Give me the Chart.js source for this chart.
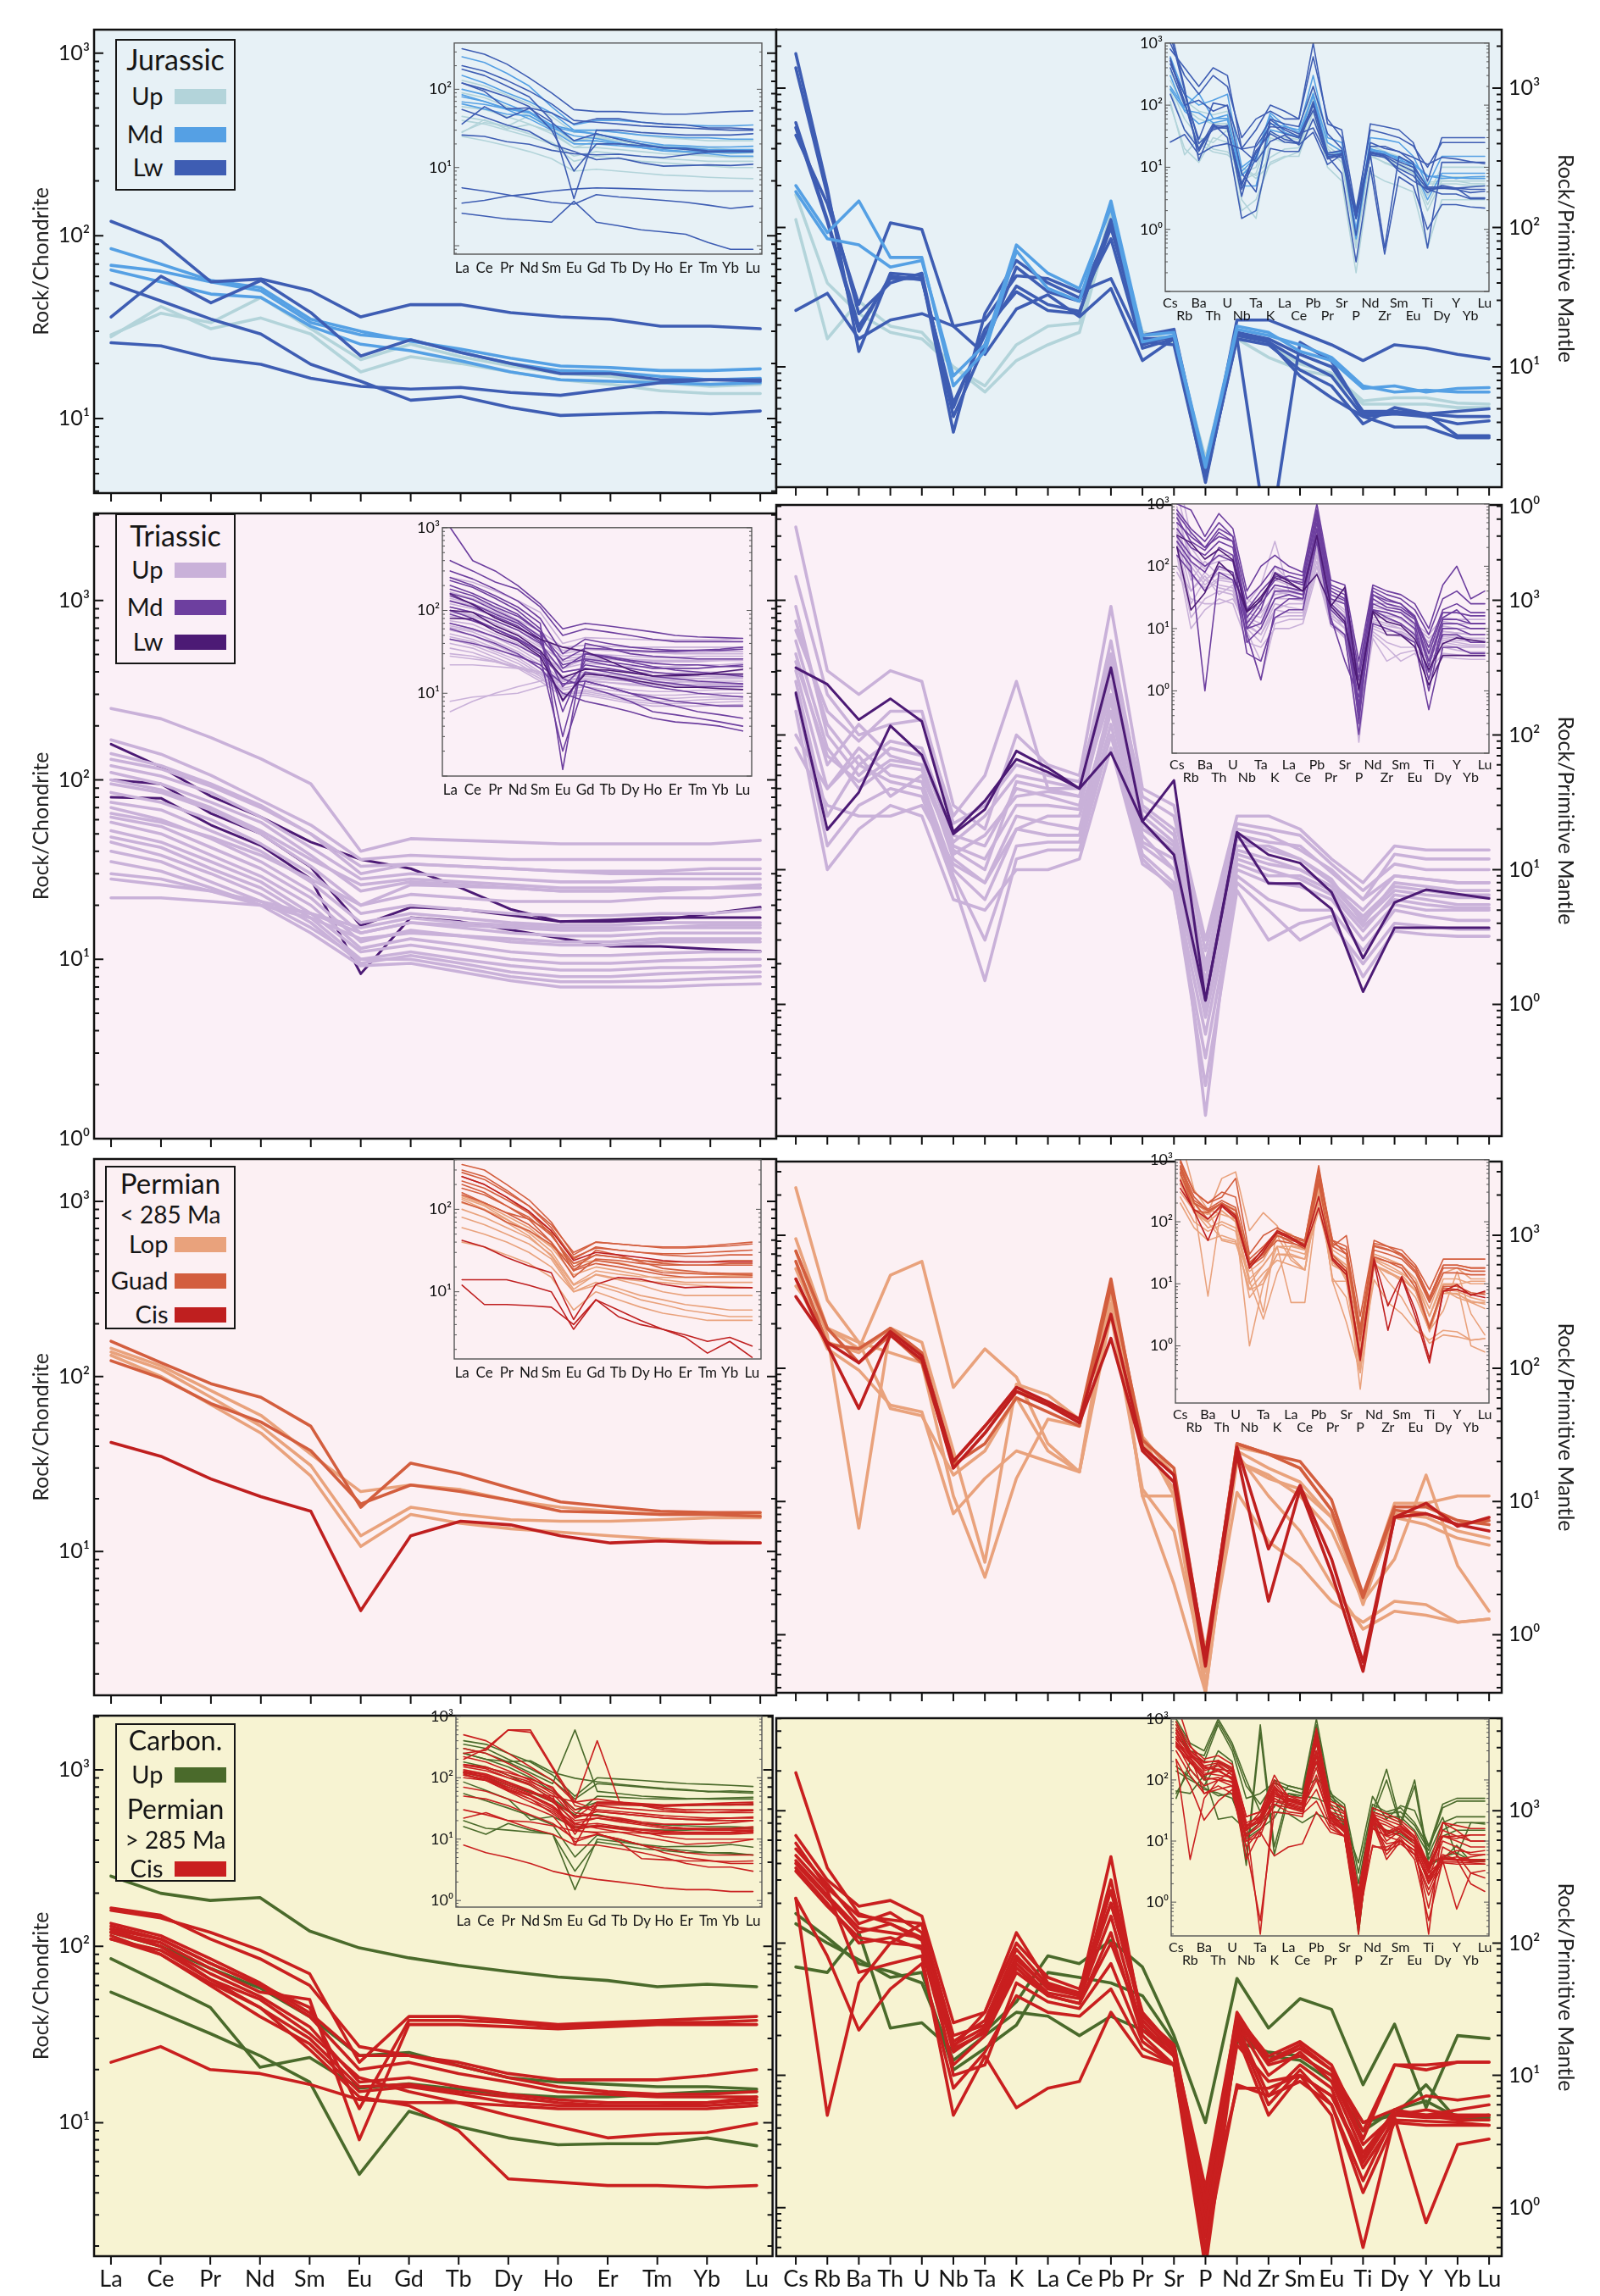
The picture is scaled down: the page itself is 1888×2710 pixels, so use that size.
<!DOCTYPE html>
<html>
<head>
<meta charset="utf-8">
<title>Chondrite and primitive-mantle normalised patterns</title>
<script src="https://cdn.jsdelivr.net/npm/chart.js@4.4.1/dist/chart.umd.min.js"></script>
<style>
html,body{margin:0;padding:0;background:#ffffff;}
#fig{position:relative;width:1888px;height:2710px;overflow:hidden;background:#fff;font-family:Lato,"Open Sans",sans-serif;color:#111;}
#fig canvas{position:absolute;}
.lg{position:absolute;box-sizing:border-box;border:2.5px solid #151515;z-index:40;}
.lg .t{position:absolute;white-space:nowrap;line-height:1;color:#151515;}
.lg .sw{position:absolute;height:18px;width:61px;}
</style>
</head>
<body>
<div id="fig"></div>
<script>
// ---------------- categories ----------------
const REE = ['La','Ce','Pr','Nd','Sm','Eu','Gd','Tb','Dy','Ho','Er','Tm','Yb','Lu'];
const PM = ['Cs','Rb','Ba','Th','U','Nb','Ta','K','La','Ce','Pb','Pr','Sr','P','Nd','Zr','Sm','Eu','Ti','Dy','Y','Yb','Lu'];
const SUPS = {'-1':'\u207B\u00B9','0':'\u2070','1':'\u00B9','2':'\u00B2','3':'\u00B3'};

// ---------------- Jurassic ----------------
const jurREE_Up = [
 [28,41,31,35.5,29,18,21.8,20,18,16.3,15.4,14.2,13.7,13.7],
 [28.7,37.7,33.5,46,31,21,25.5,21.8,19.4,17.6,17,15.7,15,15.4]
];
const jurREE_Md = [
 [85,70,57,52,35,30,26.5,24,21.4,19.4,19,18.3,18.3,18.7],
 [69,64,56,50,33.5,28.7,27,23,20,18.3,18,17,16.3,16.6],
 [65,56,48,46,32,25.5,23.5,20.7,18,16.3,16,15.7,15.4,15.7]
];
const jurREE_Lw = [
 [120,94,56,58,50,36,42,42,38,36,35,32,32,31],
 [36,60,43,57,38,22,27,23,20,17.6,17.6,16.3,16.3,16],
 [55,44,35,29,19.8,16,12.6,13.2,11.5,10.4,10.6,10.8,10.6,11],
 [26,25,21.4,19.8,16.6,15,14.5,14.8,13.9,13.4,14.5,15.7,16.3,16.3]
];
const jurREE_insetUp = [
 [60,55,45,36,27,18,18,17,16,15,14.5,14,13.5,13.5],
 [40,36,30,25,20,12,14,13,12,11.5,11,10.5,10,10],
 [25,22,19,16,13,9,9.5,9,8.5,8,7.8,7.5,7.3,7.2],
 [90,78,60,46,33,22,24,22,20,19,18,18,17,17],
 [130,110,85,65,45,28,30,28,26,24,23,22,22,22],
 [45,40,33,27,21,14,16,15,14,13,12.5,12,12,12]
];
const jurREE_insetMd = [
 [150,120,90,70,50,30,30,28,26,25,24,24,23,23],
 [100,85,65,50,35,22,22,20,19,18,17.5,17,17,17],
 [260,220,160,110,60,35,40,40,38,36,35,34,34,35],
 [80,70,55,42,30,20,20,19,18,17,16,15,14,14]
];
const jurREE_insetLw = [
 [330,280,210,140,90,55,52,52,50,48,48,50,52,53],
 [2.6,2.4,2.2,2.1,2.0,3.7,2.0,1.8,1.6,1.5,1.4,1.1,0.9,0.9],
 [5.5,5,4.5,4,3.6,3.4,4.5,4.2,4,3.8,3.6,3.3,3,3.2],
 [3.5,3.8,4.3,4.6,5,5.3,5.5,5.4,5.3,5.2,5.1,5,5,5],
 [180,150,110,80,40,4,30,30,28,27,26,26,26,27],
 [200,170,130,95,65,40,38,36,34,33,32,31,30,30],
 [120,100,80,60,30,9,20,20,19,18,17,16,16,16]
];
const jurPM_Up = [
 [172,40,24.1,17.7,15.9,10,6.6,11.1,14.4,17.7,114,15.9,15.1,2.2,15.9,11.7,9.5,8.6,5.4,5.4,5.4,5.1,5.1],
 [114,15.9,29.6,19.6,17.7,10,7.3,14.4,19.6,20.6,126,17.7,15.9,2.1,16.8,14.4,10.5,9.0,5.7,6.0,6.0,5.5,5.4]
];
const jurPM_Md = [
 [200,92,155,61,61,7.3,12.9,68,36.5,29.6,155,16.8,17.7,2.0,19.6,17.7,12.9,11.1,7.0,7.3,6.6,7.0,7.1],
 [181,83,75,52,58,8.6,14.4,75,47,36.5,140,15.1,16.8,1.9,18.6,16.8,14.4,11.7,7.3,6.6,6.8,6.6,6.6]
];
const jurPM_Lw = [
 [1770,191,12.9,47,45,3.4,24.1,58,40,31.2,103,15.1,14.4,1.55,16.8,15.1,11.1,8.6,4.4,4.6,4.4,3.9,4.1],
 [1400,172,24.1,40,47,4.4,14.4,52,34.6,29.6,83,13.6,15.9,1.6,15.9,14.4,9.5,7.3,3.9,5.1,4.6,3.2,3.2],
 [566,114,19.6,43,43,5.1,18.6,34.6,25.4,24.1,114,16.8,18.6,1.8,17.7,15.9,12.3,10,4.8,4.8,4.6,4.8,5.0],
 [460,148,28.1,108,97,19.6,21.7,45,43,34.6,43,14.4,16.8,1.6,21.7,21.7,17.7,14.4,11.1,14.4,13.6,12.3,11.4],
 [25.4,33.7,15.9,21.7,24.1,19.6,12.3,26,32.9,22.9,36.5,11.1,15.9,1.48,17.7,15.1,8.6,6.0,4.4,3.7,3.7,3.1,3.1],
 [520,110,18,45,42,5.5,17,38,28,25,100,16,16,1.7,16,0.5,15,11,4.6,4.6,4.6,4.4,4.4]
];
const jurPM_insetUp = [
 [200,60,30,25,40,3,1.5,30,25,25,100,20,12,0.5,15,12,10,8,2,6,6,6,6],
 [100,20,12,30,25,2,3,12,15,15,80,10,6,0.2,8,6,5,4,0.5,3,3,3,3],
 [250,90,60,50,50,6,8,35,30,28,120,22,15,0.6,18,14,12,9,2.5,7,7,7,7],
 [350,120,80,70,80,8,10,40,35,32,200,25,18,0.9,22,18,15,11,3.5,10,10,10,10]
];
const jurPM_insetMd = [
 [600,150,100,120,150,10,15,50,45,40,300,30,25,1.0,30,28,25,15,5,15,15,15,15],
 [300,80,50,60,70,5,5,40,35,30,150,25,18,0.7,20,16,14,10,3,8,8,8,8]
];
const jurPM_insetLw = [
 [1000,300,150,300,200,30,60,80,60,60,1000,50,40,2,40,35,30,22,10,25,25,25,25],
 [800,400,200,400,300,20,40,100,80,60,600,60,30,1.5,50,45,40,25,6,30,30,30,30],
 [150,40,20,50,30,1.5,2,20,18,18,60,15,8,0.3,10,0.4,7,5,1.0,2.5,2.5,2.3,2.2],
 [400,100,120,80,100,8,4,60,50,45,200,35,20,0.8,25,20,18,12,0.5,12,12,12,12]
];

// ---------------- Triassic ----------------
const triREE_Up = [
 [250,219,172,131,95,40,47,46,45,44,44,44,44,46],
 [167,139,106,77,56,36,38,37,36,36,36,36,36,36],
 [130,115,92,70,50,33,34,33,32,31,31,31,32,32],
 [120,105,85,62,42,28,30,29,28,27,27,28,28,28],
 [110,95,75,58,38,24,27,26,25,24,24,25,25,26],
 [95,85,68,50,33,20,23,22,21,21,21,22,22,23],
 [85,75,60,44,30,18,20,19,18,17.5,17.5,18,18,19],
 [75,68,52,40,27,16,18,17,16,15.5,15.5,16,16,16],
 [70,60,47,35,24,14,16,15,14,13.5,13.5,14,14,14],
 [62,55,42,32,22,12.5,14.5,13.5,12.5,12,12,12.5,12.5,12.5],
 [58,50,38,29,20,11.5,13,12,11,10.5,10.5,10.8,11,11],
 [52,45,35,27,18,11,12,11,10,9.5,9.5,9.8,10,10],
 [48,42,32,25,17,10,11,10,9.2,8.7,8.7,9,9,9.2],
 [45,38,30,23,16,9.5,10.5,9.5,8.5,8,8,8.3,8.5,8.5],
 [40,35,27,21,15,10,10,9,8,7.5,7.5,7.6,7.8,8],
 [35,31,25,20,14,9.2,9.5,8.5,7.6,7,7,7,7.2,7.3],
 [30,28,24,20,17,13,14,13.5,13,12.5,12.5,13,13,13],
 [28,26,24,21,18,14,16,15.5,15,14.5,14.5,15,15,15],
 [22,22,21,20,18,15,17,16,15.5,15,15,15,15.5,15.5],
 [65,58,48,38,28,20,26,25.5,25,24,24,24,25,25],
 [100,88,70,52,36,26,28,27,26,25,25,25,25,25],
 [140,120,95,72,50,30,34,33,32,31,30,30,30,30]
];
const triREE_Lw = [
 [158,118,81,62,45,36,32,25,19,16.2,16.2,16.6,18,19.5],
 [100,95,65,50,32.6,15.4,19.5,19,17.6,16.2,16.6,17.1,17.1,17.1],
 [80,79,56,43,28,8.3,17.1,16.2,14.6,13.1,11.8,11.8,11.4,11.1]
];
const triREE_insetUp = [
 [8,9,9.5,10,12,14,15,14.5,14,13,12.5,12,12,12],
 [6,8,10,12,14,16,18,17,16,15,14,13.5,13,13]
];
const triREE_insetMd = [
 [1000,400,300,200,120,60,70,65,60,55,50,48,47,46],
 [400,300,220,180,110,50,60,55,50,45,42,42,42,42],
 [250,200,150,110,70,1.2,40,35,30,28,27,26,26,26],
 [200,160,120,90,55,3,30,28,25,23,22,22,21,21],
 [150,120,90,70,45,6,25,22,20,18,17,17,17,17],
 [100,80,60,45,30,15,12,10,8,6,5.5,5,4.5,4],
 [60,50,40,30,20,10,8,7,6,5,4.5,4.3,4,3.5],
 [180,150,110,85,55,25,35,34,33,32,32,33,34,36],
 [300,240,180,130,80,30,45,40,36,34,33,33,33,34],
 [230,190,140,100,60,20,30,27,24,21,19,18,17,16],
 [130,110,85,65,42,12,22,20,18,16,15,14,13.5,13],
 [90,75,60,46,32,8,18,16,14,12,11,10,9.5,9],
 [70,60,48,38,27,2,14,12,10,9,8,7.5,7,7],
 [160,135,100,75,48,22,26,24,22,20,20,20,21,22],
 [110,95,75,58,40,18,20,18,16,14,13,12,12,12],
 [45,40,34,28,22,13,14,12,10,8,7,6,5.5,5]
];
const triPM_Up = [
 [3500,300,200,300,250,30,20,100,60,50,900,40,30,3,25,25,20,12,8,15,14,14,14],
 [1500,200,100,120,130,25,50,250,40,40,500,30,20,2,20,18,14,10,6,13,12,12,12],
 [700,120,60,90,80,18,15,40,35,30,300,22,15,1.5,17,14,12,8,5,9,8.5,8,8],
 [500,80,40,60,55,15,12,30,30,28,250,20,14,1.2,14,12,10,7.5,4.5,7.5,7,6.5,6.5],
 [400,60,120,70,60,12,8,25,22,20,180,16,12,1.0,12,10,8.5,6.5,3.5,6.5,6,5.5,5.5],
 [300,40,80,50,45,10,6,20,18,18,150,15,10,0.8,10,8,7.5,6,3,5.5,5,5,5],
 [250,25,60,45,40,9,3,15,16,16,120,13,8,0.6,9,6,5,5,2.5,5,4.5,4.2,4.2],
 [200,15,30,40,35,8,1.5,12,14,14,100,12,7,0.4,8,5,3,4,2,4,3.8,3.6,3.6],
 [150,10,20,30,25,6,5,10,10,12,80,11,7.5,0.25,7,3,4,4.5,1.6,3.5,3.3,3.2,3.2],
 [100,40,70,35,50,14,10,45,40,35,200,22,13,1.3,15,15,12,8.5,4,8,7.5,7,7],
 [600,150,90,150,150,22,30,60,50,45,400,35,25,2.5,22,20,18,11,7,11,10,10,10],
 [900,100,50,80,70,16,25,50,45,40,350,28,18,1.8,18,16,15,9.5,6,9,8.5,8,8],
 [80,30,25,25,30,11,8,20,25,25,150,18,10,0.9,11,9,9,7,3.8,6,5.5,5.2,5.2],
 [350,70,45,65,60,13,18,35,38,35,250,25,16,0.15,13,11,10,7.5,4.2,7,6.5,6.2,6.2]
];
const triPM_Lw = [
 [316,238,130,186,126,19,32.5,66,53,40,316,22.8,46,1.07,19,12.9,11.2,6.8,2.2,5.7,7.1,6.6,6.1],
 [206,19.8,37.5,117,71,18.4,28,76,57,40,74,22.8,12.9,1.07,18.4,7.9,7.9,5.1,1.24,3.7,3.7,3.7,3.7]
];
const triPM_insetMd = [
 [1000,800,300,700,400,40,100,150,100,80,1000,60,50,3,50,40,35,25,10,50,100,30,40],
 [500,300,200,300,250,15,30,60,70,60,600,40,30,1.5,40,30,25,15,5,20,25,18,18],
 [200,100,1,80,60,8,1.5,20,30,30,300,15,3,0.8,20,15,12,8,2,8,8,6,6],
 [800,400,250,500,300,30,50,100,80,70,800,50,40,2,45,35,30,20,8,30,40,25,25],
 [300,150,100,150,120,10,12,40,40,35,400,25,15,0.5,25,20,18,12,1.5,12,12,10,10],
 [700,350,200,400,300,10,20,80,60,50,700,45,35,0.3,35,25,22,15,3,15,20,12,12],
 [400,200,150,250,200,12,25,50,45,40,500,30,25,0.6,30,22,20,14,2.5,14,14,12,12],
 [250,120,80,200,150,6,10,30,35,30,400,20,12,0.4,20,18,15,10,1,10,10,8,8],
 [600,250,180,350,250,20,40,70,60,55,600,35,28,1.0,35,28,25,16,4,18,18,16,16],
 [150,80,40,100,80,4,3,15,20,20,250,12,8,0.2,12,10,8,6,0.5,5,5,4,4]
];

// ---------------- Permian < 285 Ma ----------------
const perREE_Lop = [
 [145,115,83,60,36,22,24,22.6,19.6,17.9,17,16.3,16.3,16.3],
 [138,110,76,52,31,12.3,17.9,16.3,15.2,14.9,14.9,15.2,15.6,15.6],
 [132,100,69,47.5,27,10.7,16.3,14.5,13.5,12.9,12.3,11.8,11.5,11.2]
];
const perREE_Guad = [
 [159,120,91,76,52,17.9,32,27.8,23,19.2,18,17,16.7,16.7],
 [123,98,70,55,37.7,18.7,24,22,19.6,17,16.7,16.3,16.3,15.9]
];
const perREE_Cis = [
 [42,35,26,20.6,17,4.6,12.3,14.9,14.2,12.3,11.2,11.5,11.2,11.2]
];
const perREE_insetLop = [
 [100,80,60,45,28,12,16,14,12,10,9,9,9,9],
 [60,50,40,30,20,10,12,10,8,7,6,5.5,5,5],
 [40,35,28,22,15,6,10,8,6.5,5.5,5,4.5,4.5,4.5],
 [120,100,75,55,35,16,20,18,16,14,13,13,13,13],
 [80,65,50,38,25,10,13,11,9,8,7,6.5,6,6]
];
const perREE_insetGuad = [
 [350,300,200,130,70,28,40,38,36,34,34,35,36,38],
 [300,250,170,110,60,25,35,32,30,28,27,27,28,28],
 [250,200,140,90,50,20,28,26,24,22,21,21,21,21],
 [200,160,110,75,40,18,22,20,18,16,15,15,15,15],
 [150,120,90,65,40,15,25,24,22,21,21,21,22,22],
 [280,230,160,110,65,30,40,38,36,35,35,36,38,40],
 [220,180,130,90,55,26,34,32,30,29,29,30,31,32],
 [180,150,110,80,48,22,28,26,24,23,23,23,24,24]
];
const perREE_insetCis = [
 [14,14,14,12,10,3.5,8,5,4,3.5,3,2.5,2.8,2.2],
 [12,7,7,6.8,6.5,4,8,6,4.5,3.5,2.8,1.8,2.5,1.6],
 [250,200,140,95,55,24,30,28,26,24,23,23,23,23]
];
const perPM_Lop = [
 [2270,325,157,50,44,15.8,24,60,24,16.7,307,30.7,11,0.37,24,17.8,14,7.6,1.78,7.6,6.7,5.3,4.7],
 [940,200,140,500,636,72,140,86,27.2,16.7,415,11,2.4,0.37,22.7,11,6,2.4,1.1,1.5,1.4,1.24,1.31],
 [760,178,6.3,200,157,24,3.5,76,63,41.5,370,30.7,15.8,0.53,25.6,22.7,17.8,8.6,1.68,8.1,7.6,6,5.3],
 [560,157,131,200,124,17.8,32.6,67,53,41.5,370,11,11,0.77,20,15.8,11,6,1.78,3.7,15.8,3.3,1.5],
 [469,140,97,53,47,8.1,14.9,24,20,16.7,255,12.4,6,0.53,11.7,5,3.3,1.78,1.24,1.78,1.68,1.24,1.31],
 [415,200,157,131,110,11,2.7,14.9,41.5,36.8,307,27.2,12.4,0.42,20,14.9,12.4,7.6,1.9,9.7,9.7,11,11]
];
const perPM_Guad = [
 [636,152,140,200,131,20,36.8,67,56,41.5,469,25.6,15.8,0.62,27.2,22.7,17.8,8.6,1.9,8.6,8.1,6.7,7.2],
 [760,200,110,178,110,18.9,27.2,60,47,36.8,415,29,17.8,0.65,27.2,22.7,20,10.3,2.0,9.1,9.1,7.2,6.7]
];
const perPM_Cis = [
 [469,148,50,178,116,17.8,32.6,67,53,39,168,24,14,0.58,22.7,1.78,12.4,2.9,0.53,7.6,8.1,6.7,6],
 [346,157,110,189,124,20,36.8,72,56,41.5,255,25.6,15.8,0.69,25.6,4.4,13.2,3.7,0.62,7.6,9.7,6.5,7.6]
];
const perPM_insetGuad = [
 [1000,300,200,250,500,30,60,80,60,50,800,40,60,3,50,40,35,20,8,25,25,25,25],
 [800,250,150,200,150,20,30,60,50,45,500,50,30,1.2,40,35,30,18,6,20,20,18,18],
 [600,200,150,200,150,20,30,50,45,40,600,40,30,1.5,35,30,25,15,5,15,15,14,14],
 [900,300,200,300,250,25,40,70,60,50,700,50,40,2,45,40,30,18,6,20,20,18,18],
 [700,220,160,220,170,22,35,65,55,48,650,45,35,1.8,42,36,28,16,5.5,18,18,16,16]
];
const perPM_insetLop = [
 [500,200,100,150,100,1.0,10,40,5,5,300,30,20,1.5,30,25,20,12,4,15,18,12,12],
 [200,80,50,60,50,8,10,30,30,25,150,20,15,0.2,20,15,12,8,2,8,6,5,4],
 [300,150,80,100,80,10,20,40,35,30,200,25,15,0.8,25,20,15,10,3,10,10,1,0.8],
 [400,150,100,150,100,12,20,40,40,35,400,35,25,1.0,30,25,20,12,3,12,12,10,10],
 [250,100,70,90,70,6,12,30,28,25,250,22,14,0.5,20,16,12,8,2.2,7,7,5,5]
];

// ---------------- Carboniferous / Permian > 285 Ma ----------------
const carREE_Up = [
 [250,200,182,189,122,98,86,78,72,67,64,59,61,59],
 [85,62,45,20.6,23.4,15.7,16.6,15.5,14.5,14,14,14.5,15,15],
 [55,42,32,24,17,5.1,11.6,9.5,8.2,7.5,7.6,7.6,8.2,7.4],
 [120,100,75,58,40,24,25,21,18,17,16.5,16,16,15.5]
];
const carREE_Cis = [
 [165,150,110,85,60,27,24,22,19,17.5,17.5,17.5,18.5,20],
 [160,145,120,95,70,22,40,40,38,36,37,38,39,40],
 [125,110,80,60,45,12,38,38,37,35,36,37,37,38],
 [120,105,75,55,50,8,36,36,35,34,35,36,36,36],
 [130,110,80,60,40,20,22,19,17,15,14.5,14,14,14],
 [120,100,70,52,35,17,18,16,14.5,13.5,13,13,13,13.5],
 [110,95,65,45,30,16,16.5,15,14,13,12.5,12.5,12.5,13],
 [115,90,60,40,28,15,16,14.5,13,12.5,12.5,12.5,13,14],
 [125,100,65,50,32,18,15,13,11,9.5,8.2,8.6,8.8,9.9],
 [110,90,62,45,26,14,12.5,9,4.8,4.6,4.4,4.4,4.3,4.4],
 [22,27,20,19,16.5,13.5,13,13,12.5,12,12,12,12,12.5],
 [135,115,85,62,42,24,24,21,18,16,15,14.5,14.5,15]
];
const carREE_insetUp = [
 [300,250,180,120,80,600,60,55,50,48,46,45,45,45],
 [400,350,250,180,110,50,100,95,90,85,80,78,75,72],
 [20,15,14,13,12,1.5,10,9,8,7,6.5,6,6,5.5],
 [250,200,150,100,60,30,40,38,36,35,35,36,36,37],
 [350,300,200,140,90,45,80,75,70,65,62,60,58,56],
 [180,150,110,75,45,25,50,48,46,45,45,46,47,48],
 [16,12,18,14,12,3,9,8,7,6.5,6,6,5.8,5.5]
];
const carREE_insetCis = [
 [200,300,600,600,150,40,30,28,26,24,23,22,22,22],
 [150,130,100,80,50,40,400,40,35,32,30,30,30,30],
 [8,6,5,4,3,2.5,2.2,2.0,1.8,1.6,1.5,1.5,1.4,1.4],
 [50,45,35,25,18,10,12,10,8,6,5,4.5,4,4],
 [30,25,20,15,12,8,8,7,6,5,4,3.5,3.5,3],
 [500,400,250,150,90,40,45,40,35,30,28,27,27,27],
 [300,250,170,110,65,30,35,32,30,28,27,27,28,29],
 [220,180,130,90,55,22,28,26,24,22,21,21,22,23],
 [160,140,100,75,45,18,22,20,18,16,15,15,15,16],
 [100,90,70,52,34,14,17,15,13,11,10,10,10,10],
 [70,60,45,34,24,9,12,10,8,7,6,5.5,5.5,5.5],
 [250,280,600,550,140,35,28,26,24,22,21,20,20,20]
];
const carPM_Up = [
 [66,60,120,22.8,25,15.3,21.4,36,80,70,105,66,20,4.4,54,22.8,38,31.6,8.5,24.4,5.7,20,19],
 [167,110,70,61,50,13,20,30,28,20,28,22,16,0.75,21,14,13,9,3.8,5.5,6.4,4.8,5],
 [140,100,75,55,60,11,16,24,60,55,50,40,18,0.6,18,15,14,10,4.4,5,8.5,4.6,4.8]
];
const carPM_Cis = [
 [1940,370,167,140,105,16.4,30,120,50,42,450,24,14,1.0,30,12.6,16,11,4.4,5.5,5,5.5,6],
 [650,300,190,210,160,25,30,100,55,45,200,30,16,1.4,28,14,18,12,3.8,12,11,12.6,12.6],
 [570,260,160,150,140,20,24,80,45,40,300,28,17,1.2,26,12,14,10,3.0,5,5.5,5,5],
 [515,280,140,170,120,18,26,90,48,40,250,26,15,0.9,25,10,15,9,2.6,5.2,5,4.6,4.6],
 [420,230,130,120,110,15,22,70,42,38,160,22,14,0.6,24,7,12,8,2.0,4.6,4.5,4.4,4.2],
 [370,200,100,110,90,12,20,60,40,35,120,20,12,0.45,22,6,11,6,1.3,4.4,4.2,4.2,4.2],
 [218,5,50,100,140,10,12,50,36,32,70,18,12,0.35,20,5,10,5,0.5,4.8,0.77,3,3.3],
 [460,250,60,70,80,5,14,5.7,8,9,30,14,12,0.5,8.5,7,9,6,1.6,5,4.8,4.8,5],
 [218,80,22,45,70,8,15,40,30,28,45,16,12,0.8,8,8,10,7,2.2,5.2,5,5,5],
 [400,220,120,140,110,17,23,75,46,40,200,28,16,1.1,26,13,17,11,3.3,12,12,12.6,12.6],
 [350,190,110,100,95,16,21,65,40,35,100,24,14,0.7,17,9,10,7,2.4,5.5,7,6.5,7.0]
];
const carPM_insetUp = [
 [1000,400,300,1000,400,100,30,100,80,70,1000,60,40,3,40,30,35,20,8,40,50,50,50],
 [50,200,100,300,200,5,800,8,60,50,300,30,20,0.3,30,150,20,100,5,15,20,20,20],
 [700,250,200,800,300,50,60,90,70,60,400,50,30,0.4,30,25,25,15,6,20,25,25,25],
 [900,300,250,900,350,80,40,90,70,60,800,55,35,2,35,28,30,18,7,35,45,45,45],
 [60,150,80,200,150,4,600,6,50,40,200,25,18,0.35,25,100,18,80,4,12,15,15,15]
];
const carPM_insetCis = [
 [800,300,200,200,150,20,0.3,60,50,45,600,40,30,0.3,30,25,20,12,0.3,20,15,10,10],
 [400,150,80,100,80,10,15,40,35,30,300,25,20,0.5,20,15,12,8,2,6,5,2,1.5],
 [600,250,150,180,120,15,25,50,40,35,500,30,25,1.0,25,20,15,10,3,12,10,8,8],
 [700,280,170,190,140,18,20,55,45,40,550,35,28,1.2,28,22,18,11,3.5,15,12,10,10],
 [500,200,120,150,100,12,18,45,38,33,400,28,22,0.8,22,18,14,9,2.5,10,8,6,6],
 [300,120,60,80,60,8,0.5,30,28,25,250,20,15,0.4,16,12,10,7,0.8,8,6,3,2.5],
 [900,350,220,250,180,25,30,70,55,50,700,45,35,1.5,35,28,22,14,4,20,18,16,16]
];

// ---------------- styles ----------------
const FONT = 'Lato, "Open Sans", sans-serif';
const BG = ['#e7f1f6', '#fbf0f7', '#fcf0f3', '#f7f3d2'];
const JUR = {up:'#b3d4da', md:'#55a0e4', lw:'#3e5db3'};
const TRI = {up:'#c9b1d9', md:'#6d3f9f', lw:'#4c1a75'};
const PER = {lop:'#e9a27c', guad:'#d35e3e', cis:'#bf1f1f'};
const CAR = {up:'#4a6a2b', cis:'#c91f1f'};
const fig = document.getElementById('fig');

function decadeLabel(v){ const e = Math.round(Math.log10(v)); return '10' + (SUPS[e] || ''); }

const frameTicks = {
  id: 'frameTicks',
  beforeDraw(chart, args, o){
    const a = chart.chartArea, ctx = chart.ctx;
    if (o.bg){ ctx.save(); ctx.fillStyle = o.bg; ctx.fillRect(a.left, a.top, a.right - a.left, a.bottom - a.top); ctx.restore(); }
  },
  afterDraw(chart, args, o){
    const a = chart.chartArea, ctx = chart.ctx, x = chart.scales.x, y = chart.scales.y;
    ctx.save();
    ctx.strokeStyle = o.tickC; ctx.lineWidth = o.tickW;
    ctx.beginPath();
    const lo = Math.floor(Math.log10(y.min)), hi = Math.ceil(Math.log10(y.max));
    for (let d = lo; d <= hi; d++){
      for (let k = 1; k <= 9; k++){
        const v = k * Math.pow(10, d);
        if (v < y.min * 0.999 || v > y.max * 1.001) continue;
        const py = y.getPixelForValue(v);
        const len = k === 1 ? o.major : o.minor;
        ctx.moveTo(a.left, py); ctx.lineTo(a.left + len, py);
        ctx.moveTo(a.right, py); ctx.lineTo(a.right - len, py);
      }
    }
    if (o.xTick){
      for (let i = 0; i < o.n; i++){
        const px = x.getPixelForValue(i);
        ctx.moveTo(px, a.bottom); ctx.lineTo(px, a.bottom + o.xTick);
      }
    }
    ctx.stroke();
    ctx.lineWidth = o.frameW; ctx.strokeStyle = o.frameC;
    ctx.strokeRect(a.left, a.top, a.right - a.left, a.bottom - a.top);
    if (o.extra){
      ctx.fillStyle = '#151515'; ctx.font = o.extra.size + 'px ' + FONT;
      ctx.textAlign = 'left'; ctx.textBaseline = 'middle';
      ctx.fillText(decadeLabel(o.extra.value), a.right + o.extra.pad, y.getPixelForValue(o.extra.value));
    }
    ctx.restore();
  }
};

function makeChart(s){
  const c = document.createElement('canvas');
  c.width = s.w; c.height = s.h;
  c.style.left = s.l + 'px'; c.style.top = s.t + 'px';
  c.style.width = s.w + 'px'; c.style.height = s.h + 'px'; c.style.zIndex = s.z;
  fig.appendChild(c);
  const sets = [];
  s.groups.forEach(g => g.lines.forEach(vals => sets.push({
    data: vals.map((v, i) => ({x: i, y: v})),
    borderColor: g.color, borderWidth: g.width,
    pointRadius: 0, pointHoverRadius: 0, fill: false, tension: 0,
    borderJoinStyle: 'round', borderCapStyle: 'round'
  })));
  sets.reverse();
  const labels = s.labels;
  return new Chart(c, {
    type: 'line',
    data: {datasets: sets},
    options: {
      responsive: false, animation: false, devicePixelRatio: 1, events: [],
      layout: {padding: s.pad},
      plugins: {legend: {display: false}, tooltip: {enabled: false}, frameTicks: Object.assign({n: labels.length}, s.deco)},
      scales: {
        x: {
          type: 'linear', min: s.xMin, max: s.xMax, display: s.xShow,
          grid: {display: false, drawTicks: false}, border: {display: false},
          ticks: {autoSkip: false, maxRotation: 0, minRotation: 0, padding: s.xPad || 0, color: '#151515',
                  font: {family: FONT, size: s.xSize || 12, lineHeight: s.xLH || 1.2},
                  callback: (v) => s.stagger ? (v % 2 === 0 ? [labels[v], ''] : ['', labels[v]]) : labels[v]},
          afterBuildTicks: (sc) => { sc.ticks = labels.map((_, i) => ({value: i})); },
          afterFit: (sc) => { sc.height = s.xShow ? s.xH : 0; }
        },
        y: {
          type: 'logarithmic', position: s.yPos, min: s.yMin, max: s.yMax,
          grid: {display: false, drawTicks: false}, border: {display: false},
          ticks: {padding: s.yPad, color: '#151515', font: {family: FONT, size: s.ySize}, callback: (v) => decadeLabel(v)},
          afterBuildTicks: (sc) => { sc.ticks = s.decades.map(d => ({value: Math.pow(10, d)})); },
          afterFit: (sc) => { sc.width = s.yW; },
          title: {display: !!s.title, text: s.title || '', color: '#222', font: {family: FONT, size: 25}, padding: {top: s.titlePad || 0, bottom: 0}}
        }
      }
    },
    plugins: [frameTicks]
  });
}

// ---------------- main panels ----------------
const mainDeco = (bg) => ({bg: bg, frameW: 2.5, frameC: '#111', major: 11, minor: 6, xTick: 10, tickW: 2, tickC: '#111'});
function leftMain(rowSpec){
  return Object.assign({
    l: 0, w: 918, yPos: 'left', yW: 111, yPad: 5, ySize: 25, title: 'Rock/Chondrite', titlePad: 34,
    labels: REE, xMin: -0.34, xMax: 13.32, xShow: false, xH: 47, xPad: 11, xSize: 27
  }, rowSpec);
}
function rightMain(rowSpec){
  return Object.assign({
    l: 900, w: 988, yPos: 'right', yW: 116, yPad: 8, ySize: 25, title: 'Rock/Primitive Mantle', titlePad: 26,
    labels: PM, xMin: -0.62, xMax: 22.4, xShow: false, xH: 47, xPad: 11, xSize: 27
  }, rowSpec);
}
const W = 3.6;
// Row 1
makeChart(leftMain({t: 0, h: 602, pad: {left: 0, top: 35, right: 2, bottom: 14}, z: 14, yMin: 3.91, yMax: 1343, decades: [1,2,3], deco: mainDeco(BG[0]),
  groups: [{lines: jurREE_Up, color: JUR.up, width: W}, {lines: jurREE_Md, color: JUR.md, width: W}, {lines: jurREE_Lw, color: JUR.lw, width: W}]}));
makeChart(rightMain({t: 0, h: 610, pad: {left: 16, top: 35, right: 0, bottom: 35}, z: 14, yMin: 1.37, yMax: 2630, decades: [1,2,3],
  deco: Object.assign(mainDeco(BG[0]), {extra: {value: 1, size: 25, pad: 8}}),
  groups: [{lines: jurPM_Up, color: JUR.up, width: W}, {lines: jurPM_Lw, color: JUR.lw, width: W}, {lines: jurPM_Md, color: JUR.md, width: W}]}));
// Row 2
makeChart(leftMain({t: 586, h: 778, pad: {left: 0, top: 2, right: 2, bottom: 14}, z: 13, yMin: 1, yMax: 3055, decades: [0,1,2,3], deco: mainDeco(BG[1]),
  groups: [{lines: triREE_Lw, color: TRI.lw, width: 3}, {lines: triREE_Up, color: TRI.up, width: W}]}));
makeChart(rightMain({t: 573, h: 791, pad: {left: 16, top: 2, right: 0, bottom: 14}, z: 13, yMin: 0.105, yMax: 5105, decades: [0,1,2,3], deco: mainDeco(BG[1]),
  groups: [{lines: triPM_Up, color: TRI.up, width: W}, {lines: triPM_Lw, color: TRI.lw, width: 3}]}));
// Row 3
makeChart(leftMain({t: 1348, h: 673, pad: {left: 0, top: 2, right: 2, bottom: 14}, z: 12, yMin: 1.51, yMax: 1746, decades: [1,2,3], deco: mainDeco(BG[2]),
  groups: [{lines: perREE_Lop, color: PER.lop, width: W}, {lines: perREE_Guad, color: PER.guad, width: W}, {lines: perREE_Cis, color: PER.cis, width: W}]}));
makeChart(rightMain({t: 1348, h: 673, pad: {left: 16, top: 2, right: 0, bottom: 14}, z: 12, yMin: 0.366, yMax: 3573, decades: [0,1,2,3], deco: mainDeco(BG[2]),
  groups: [{lines: perPM_Lop, color: PER.lop, width: W}, {lines: perPM_Guad, color: PER.guad, width: W}, {lines: perPM_Cis, color: PER.cis, width: W}]}));
// Row 4
makeChart(leftMain({t: 2005, h: 705, pad: {left: 0, top: 2, right: 2, bottom: 0}, z: 11, xShow: true, yMin: 1.75, yMax: 2032, decades: [1,2,3], deco: mainDeco(BG[3]),
  groups: [{lines: carREE_Up, color: CAR.up, width: W}, {lines: carREE_Cis, color: CAR.cis, width: W}]}));
makeChart(rightMain({t: 2005, h: 705, pad: {left: 16, top: 2, right: 0, bottom: 0}, z: 11, xShow: true, yMin: 0.43, yMax: 5012, decades: [0,1,2,3], deco: mainDeco(BG[3]),
  groups: [{lines: carPM_Up, color: CAR.up, width: W}, {lines: carPM_Cis, color: CAR.cis, width: W}]}));

// ---------------- insets ----------------
const insetDeco = (bg) => ({bg: bg, frameW: 1.4, frameC: '#555', major: 6, minor: 3, xTick: 0, tickW: 1, tickC: '#555'});
function inset(rect, spec){
  const [L, T, R, B] = rect;
  const pm = spec.labels === PM;
  const xH = pm ? 38 : 26;
  return makeChart(Object.assign({
    l: L - 36, t: T - 12, w: (R - L) + 36 + 12, h: (B - T) + 12 + xH,
    pad: {left: 0, top: 12, right: 12, bottom: 0}, z: 30,
    yPos: 'left', yW: 36, yPad: 3, ySize: 18,
    xShow: true, xH: xH, xPad: pm ? 7 : 6, xSize: pm ? 16 : 17, xLH: pm ? 0.9 : 1.2, stagger: pm,
    xMin: -0.35, xMax: pm ? 22.3 : 13.4
  }, spec));
}
const IW = 1.6;
inset([536, 49, 899, 300], {labels: REE, yMin: 0.78, yMax: 390, decades: [1,2], deco: insetDeco(BG[0]),
  groups: [{lines: jurREE_insetUp.concat(jurREE_Up), color: JUR.up, width: IW},
           {lines: jurREE_insetMd.concat(jurREE_Md), color: JUR.md, width: IW},
           {lines: jurREE_insetLw.concat(jurREE_Lw), color: JUR.lw, width: IW}]});
inset([1375, 49, 1757, 344], {labels: PM, yMin: 0.1, yMax: 1000, decades: [0,1,2,3], deco: insetDeco(BG[0]),
  groups: [{lines: jurPM_insetUp.concat(jurPM_Up), color: JUR.up, width: IW},
           {lines: jurPM_insetMd.concat(jurPM_Md), color: JUR.md, width: IW},
           {lines: jurPM_insetLw.concat(jurPM_Lw), color: JUR.lw, width: IW}]});
inset([522, 621, 887, 916], {labels: REE, yMin: 1, yMax: 1000, decades: [1,2,3], deco: insetDeco(BG[1]),
  groups: [{lines: triREE_insetUp.concat(triREE_Up), color: TRI.up, width: IW},
           {lines: triREE_insetMd, color: TRI.md, width: IW},
           {lines: triREE_Lw, color: TRI.lw, width: IW}]});
inset([1383, 593, 1757, 889], {labels: PM, yMin: 0.1, yMax: 1000, decades: [0,1,2,3], deco: insetDeco(BG[1]),
  groups: [{lines: triPM_Up, color: TRI.up, width: IW},
           {lines: triPM_insetMd, color: TRI.md, width: IW},
           {lines: triPM_Lw, color: TRI.lw, width: IW}]});
inset([536, 1367, 898, 1604], {labels: REE, yMin: 1.53, yMax: 400, decades: [1,2], deco: insetDeco(BG[2]),
  groups: [{lines: perREE_insetLop.concat(perREE_Lop), color: PER.lop, width: IW},
           {lines: perREE_insetGuad.concat(perREE_Guad), color: PER.guad, width: IW},
           {lines: perREE_insetCis.concat(perREE_Cis), color: PER.cis, width: IW}]});
inset([1387, 1367, 1757, 1656], {labels: PM, yMin: 0.12, yMax: 1000, decades: [0,1,2,3], deco: insetDeco(BG[2]),
  groups: [{lines: perPM_insetLop.concat(perPM_Lop), color: PER.lop, width: IW},
           {lines: perPM_insetGuad.concat(perPM_Guad), color: PER.guad, width: IW},
           {lines: perPM_Cis, color: PER.cis, width: IW}]});
inset([538, 2024, 899, 2251], {labels: REE, yMin: 0.78, yMax: 1000, decades: [0,1,2,3], deco: insetDeco(BG[3]),
  groups: [{lines: carREE_insetUp.concat(carREE_Up), color: CAR.up, width: IW},
           {lines: carREE_insetCis.concat(carREE_Cis), color: CAR.cis, width: IW}]});
inset([1382, 2027, 1757, 2285], {labels: PM, yMin: 0.28, yMax: 1000, decades: [0,1,2,3], deco: insetDeco(BG[3]),
  groups: [{lines: carPM_insetUp.concat(carPM_Up), color: CAR.up, width: IW},
           {lines: carPM_insetCis.concat(carPM_Cis), color: CAR.cis, width: IW}]});

// ---------------- legends ----------------
function legend(box, bg, items){
  const d = document.createElement('div'); d.className = 'lg';
  Object.assign(d.style, {left: box[0] + 'px', top: box[1] + 'px', width: box[2] + 'px', height: box[3] + 'px', background: bg});
  items.forEach(it => {
    const t = document.createElement('div'); t.className = 't'; t.textContent = it.text;
    t.style.fontSize = it.fs + 'px'; t.style.top = (it.y - 2.5 - it.fs * 0.53) + 'px';
    if (it.right !== undefined){ t.style.right = (box[2] - 2.5 - it.right) + 'px'; }
    else { t.style.left = '0'; t.style.width = '100%'; t.style.textAlign = 'center'; }
    d.appendChild(t);
    if (it.color){
      const s = document.createElement('div'); s.className = 'sw'; s.style.background = it.color;
      s.style.left = (it.sw - 2.5) + 'px'; s.style.top = (it.y - 2.5 - 9) + 'px'; d.appendChild(s);
    }
  });
  fig.appendChild(d);
}
legend([136, 46, 142, 179], BG[0], [
  {text: 'Jurassic', y: 26, fs: 34},
  {text: 'Up', y: 68, fs: 29, right: 56, color: JUR.up, sw: 70},
  {text: 'Md', y: 113, fs: 29, right: 56, color: JUR.md, sw: 70},
  {text: 'Lw', y: 152, fs: 29, right: 56, color: JUR.lw, sw: 70}
]);
legend([136, 606, 142, 178], BG[1], [
  {text: 'Triassic', y: 28, fs: 34},
  {text: 'Up', y: 67, fs: 29, right: 56, color: TRI.up, sw: 70},
  {text: 'Md', y: 111, fs: 29, right: 56, color: TRI.md, sw: 70},
  {text: 'Lw', y: 152, fs: 29, right: 56, color: TRI.lw, sw: 70}
]);
legend([124, 1376, 154, 193], BG[2], [
  {text: 'Permian', y: 22, fs: 33},
  {text: '< 285 Ma', y: 58, fs: 28},
  {text: 'Lop', y: 93, fs: 29, right: 74, color: PER.lop, sw: 82},
  {text: 'Guad', y: 136, fs: 29, right: 74, color: PER.guad, sw: 82},
  {text: 'Cis', y: 176, fs: 29, right: 74, color: PER.cis, sw: 82}
]);
legend([136, 2034, 142, 187], BG[3], [
  {text: 'Carbon.', y: 21, fs: 32},
  {text: 'Up', y: 61, fs: 29, right: 56, color: CAR.up, sw: 70},
  {text: 'Permian', y: 102, fs: 32},
  {text: '> 285 Ma', y: 138, fs: 28},
  {text: 'Cis', y: 172, fs: 29, right: 56, color: CAR.cis, sw: 70}
]);
</script>
</body>
</html>
